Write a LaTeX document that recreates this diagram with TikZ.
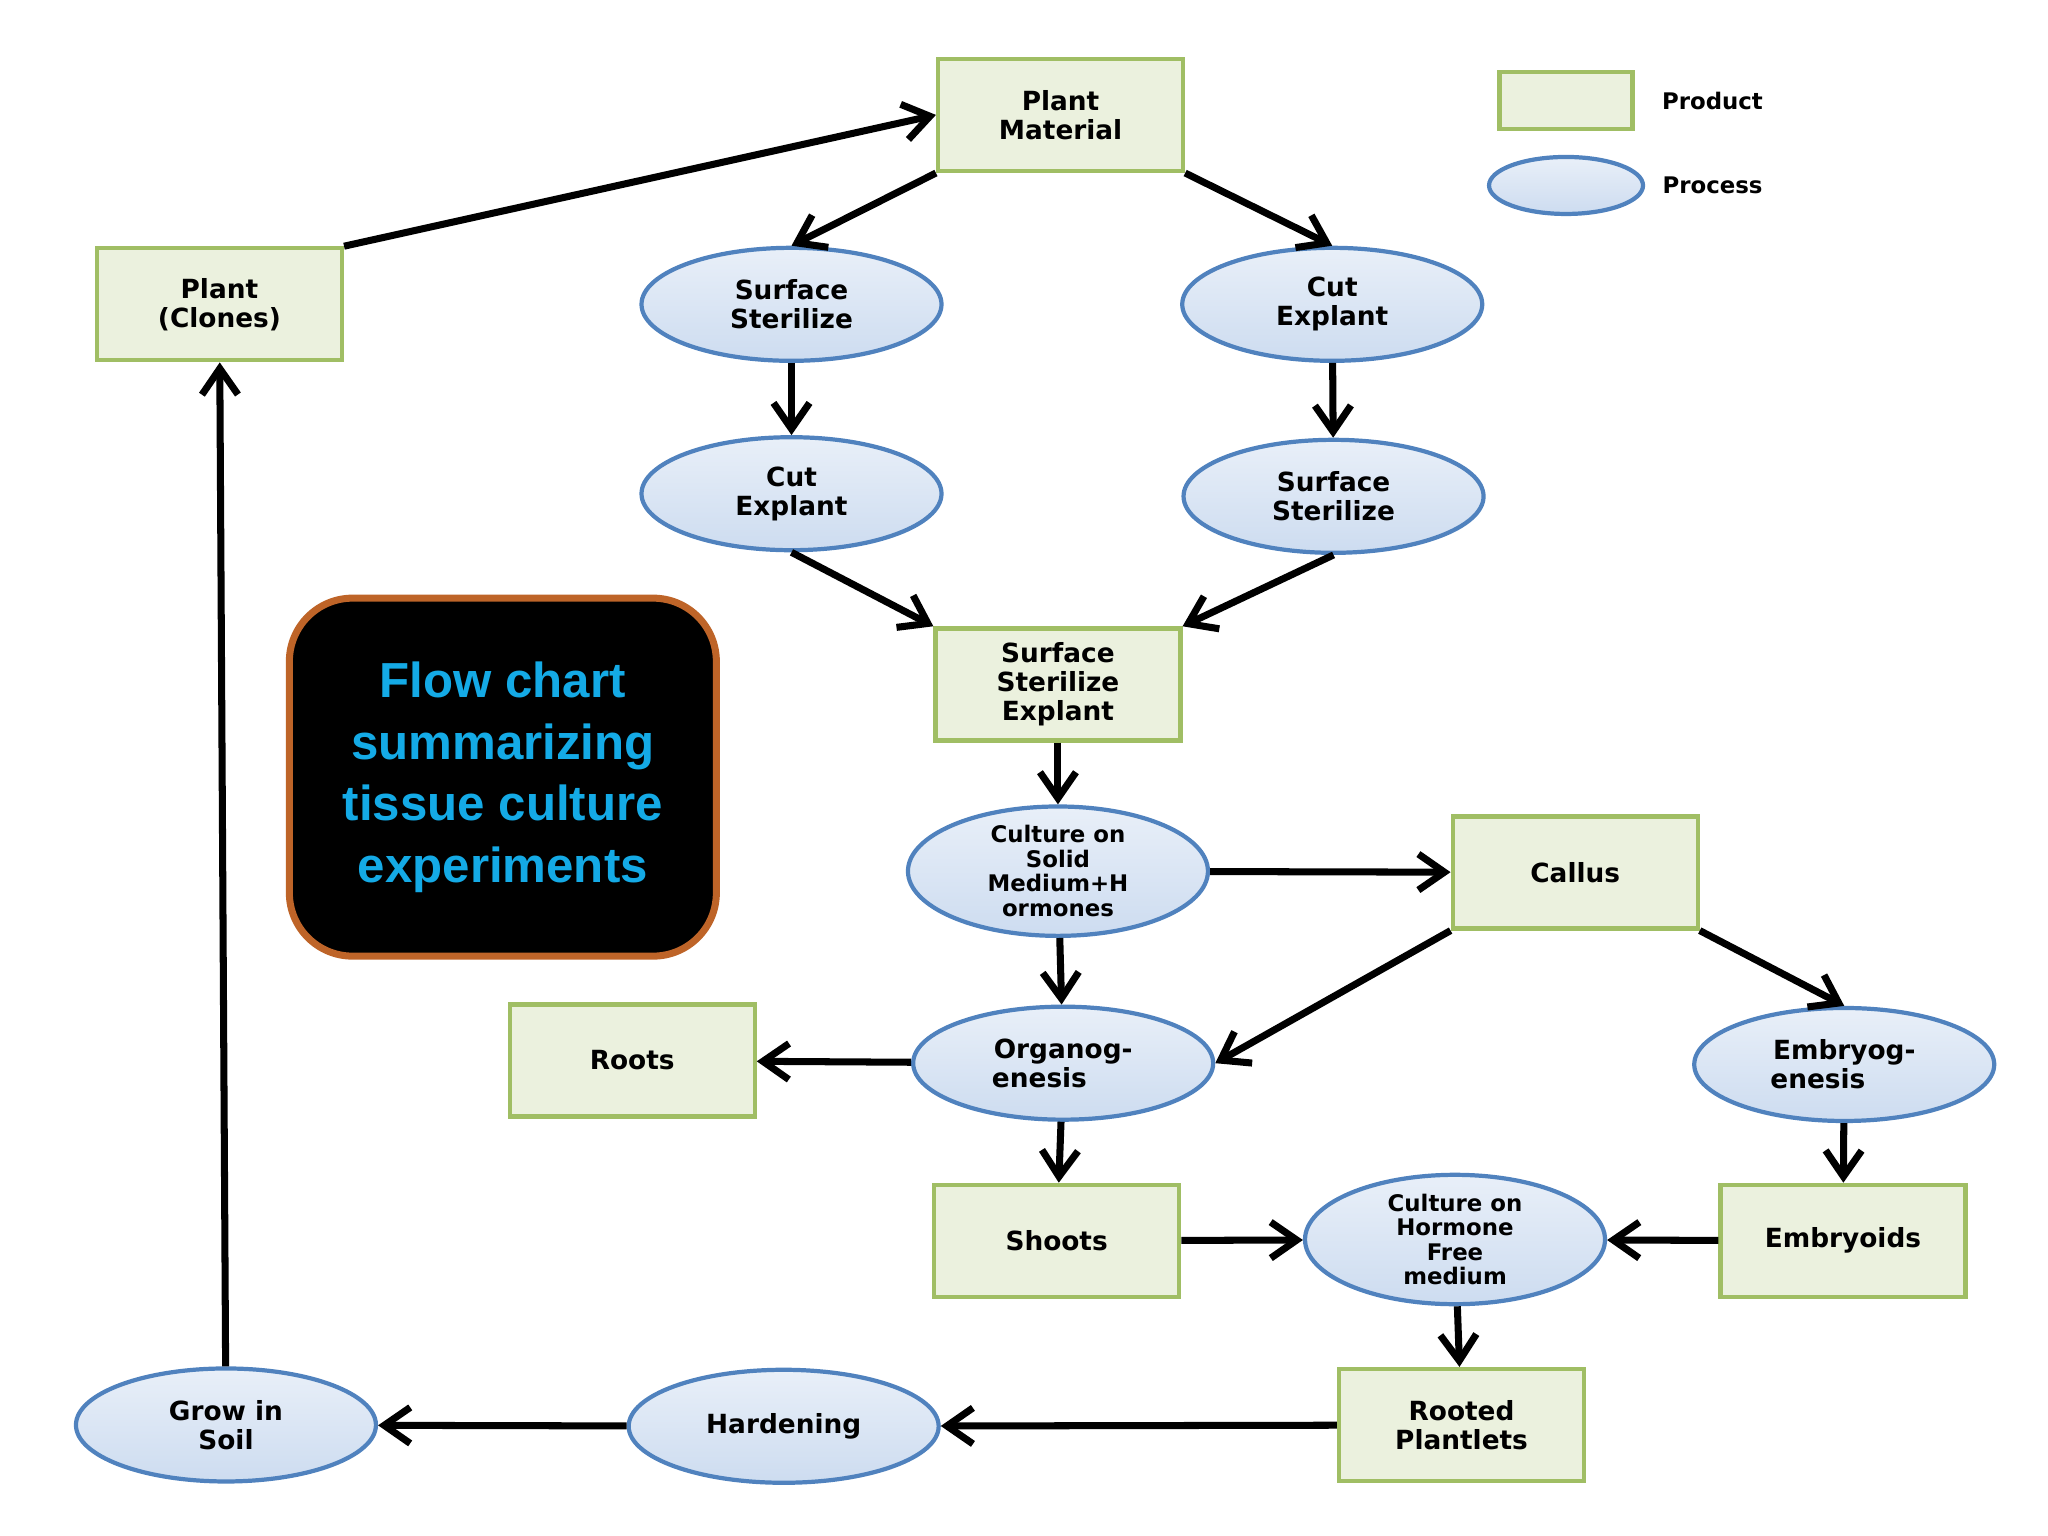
\documentclass[tikz,border=0pt]{standalone}
\usepackage{fontspec}
\setmainfont{DejaVu Sans}
\newfontfamily\boxfont{Liberation Sans}
\usetikzlibrary{shapes.geometric,arrows.meta,positioning}
\definecolor{prodfill}{RGB}{235,241,222}
\definecolor{proddraw}{RGB}{160,190,100}
\definecolor{procfill}{RGB}{205,220,240}
\definecolor{procdraw}{RGB}{80,130,190}
\definecolor{titlecol}{RGB}{20,170,230}
\definecolor{edgecol}{RGB}{190,100,40}
\tikzstyle{product} = [rectangle, minimum width=2.45cm, minimum height=1.12cm, align=center, draw=proddraw, line width=1.2pt, fill=prodfill, font=\bfseries\fontsize{7.5}{8.3}\selectfont]
\tikzstyle{process} = [ellipse, minimum width=3.0cm, minimum height=1.13cm, inner sep=0pt, align=center, draw=procdraw, line width=1.2pt, top color=procfill!45, bottom color=procfill, font=\bfseries\fontsize{7.5}{8.3}\selectfont]
\tikzstyle{small} = [font=\bfseries\fontsize{6.5}{7}\selectfont]
\tikzstyle{arrow} = [line width=2pt,-{Straight Barb[length=2.6mm,width=3.6mm]}]

\begin{document}
\begin{tikzpicture}[x=0.01306cm, y=-0.01306cm]
\useasboundingbox (0,0) rectangle (1568,1176);

% legend
\node (leg1) [product, minimum width=1.33cm, minimum height=0.57cm] at (1199,77) {};
\node (leg1t) [font=\bfseries\fontsize{6.5}{8}\selectfont, right=0.15cm of leg1] {Product};
\node (leg2) [process, minimum width=1.54cm, minimum height=0.57cm] at (1199,142) {};
\node (leg2t) [font=\bfseries\fontsize{6.5}{8}\selectfont, right=0.05cm of leg2] {Process};

% nodes
\node (material) [product] at (812,88) {Plant\\Material};
\node (clones) [product] at (168,233) {Plant\\(Clones)};
\node (ster1) [process] at (606,233) {Surface\\Sterilize};
\node (cut1) [process] at (1020,233) {Cut\\Explant};
\node (cut2) [process] at (606,378) {Cut\\Explant};
\node (ster2) [process] at (1021,380) {Surface\\Sterilize};
\node (explant) [product] at (810,524) {Surface\\Sterilize\\Explant};
\node (solid) [process, small] at (810,667) {Culture on\\Solid\\Medium+H\\ormones};
\node (callus) [product] at (1206,668) {Callus};
\node (organo) [process] at (814,814) {Organog-\\enesis\hspace*{1.8em}};
\node (roots) [product] at (484,812) {Roots};
\node (embryo) [process] at (1412,815) {Embryog-\\enesis\hspace*{2em}};
\node (shoots) [product] at (809,950) {Shoots};
\node (free) [process, small] at (1114,949) {Culture on\\Hormone\\Free\\medium};
\node (embryoids) [product] at (1411,950) {Embryoids};
\node (rooted) [product] at (1119,1091) {Rooted\\Plantlets};
\node (harden) [process, minimum width=3.1cm] at (600,1092) {Hardening};
\node (soil) [process] at (173,1091) {Grow in\\Soil};

\node (title) [rectangle, rounded corners=18, draw=edgecol, line width=2pt, fill=black, minimum width=4.27cm, minimum height=3.58cm, align=center, text=titlecol, font=\boxfont\bfseries\fontsize{14}{17.5}\selectfont] at (385,595) {Flow chart\\summarizing\\tissue culture\\experiments};

%arrows
\draw [arrow] (clones.north east) -- (material.west);
\draw [arrow] (material.south west) -- (ster1.north);
\draw [arrow] (material.south east) -- (cut1.north);
\draw [arrow] (ster1) -- (cut2);
\draw [arrow] (cut1) -- (ster2);
\draw [arrow] (cut2.south) -- (explant.north west);
\draw [arrow] (ster2.south) -- (explant.north east);
\draw [arrow] (explant) -- (solid);
\draw [arrow] (solid) -- (callus);
\draw [arrow] (solid) -- (organo);
\draw [arrow] (callus.south west) -- (organo.east);
\draw [arrow] (callus.south east) -- (embryo.north);
\draw [arrow] (organo) -- (roots);
\draw [arrow] (organo) -- (shoots);
\draw [arrow] (embryo) -- (embryoids);
\draw [arrow] (shoots) -- (free);
\draw [arrow] (embryoids) -- (free);
\draw [arrow] (free) -- (rooted);
\draw [arrow] (rooted) -- (harden);
\draw [arrow] (harden) -- (soil);
\draw [arrow] (soil) -- (clones);
\end{tikzpicture}
\end{document}
